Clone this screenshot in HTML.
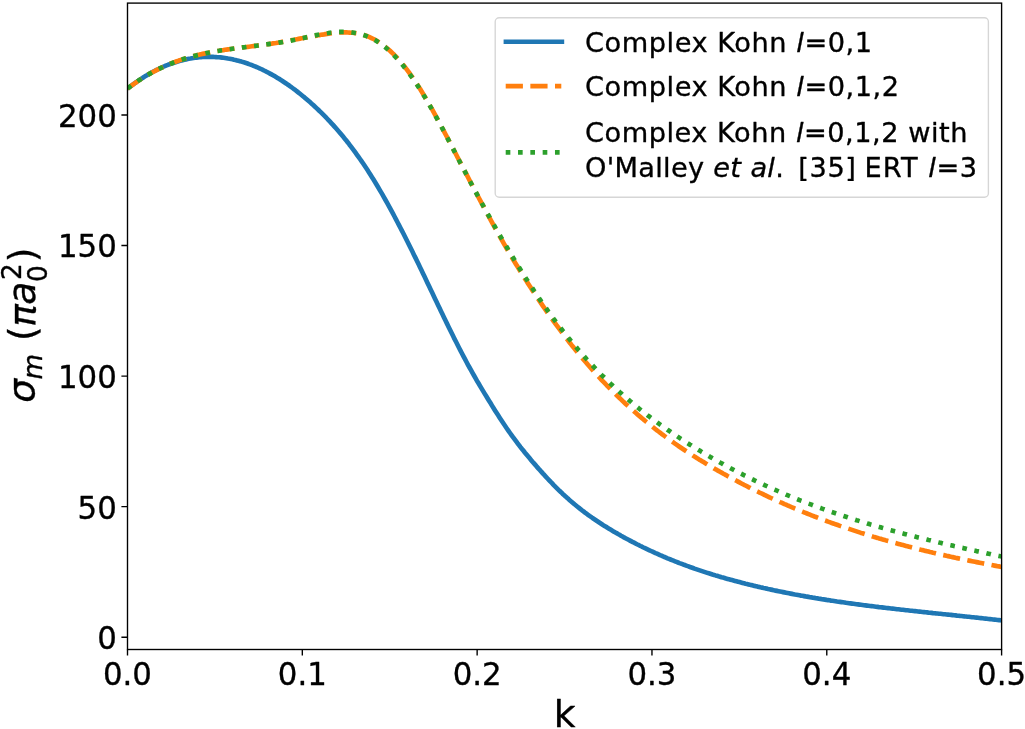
<!DOCTYPE html>
<html><head><meta charset="utf-8"><title>sigma_m vs k</title>
<style>html,body{margin:0;padding:0;background:#fff;width:1025px;height:729px;overflow:hidden}svg{display:block}text{white-space:pre}</style>
</head><body>
<svg width="1025" height="729" viewBox="0 0 1025 729"><rect x="0" y="0" width="1025" height="729" fill="#fff"/>
<defs><clipPath id="ax"><rect x="127.5" y="3.1" width="874.1" height="646.4"/></clipPath></defs>
<g clip-path="url(#ax)" fill="none" stroke-linejoin="round">
<path d="M127.5 88.7 L129.0 87.5 L130.5 86.4 L132.0 85.2 L133.5 84.1 L135.0 83.0 L136.5 82.0 L138.0 80.9 L139.5 79.9 L141.0 78.9 L142.5 78.0 L144.0 77.0 L145.5 76.1 L147.0 75.2 L148.5 74.3 L150.0 73.4 L151.5 72.6 L153.0 71.8 L154.5 71.0 L156.0 70.2 L157.5 69.5 L159.0 68.7 L160.5 68.0 L162.0 67.3 L163.5 66.7 L165.0 66.0 L166.5 65.4 L168.0 64.8 L169.5 64.3 L171.0 63.7 L172.5 63.2 L174.0 62.7 L175.5 62.2 L177.0 61.7 L178.5 61.3 L180.0 60.8 L181.5 60.4 L183.0 60.1 L184.5 59.7 L186.0 59.4 L187.5 59.0 L189.0 58.7 L190.5 58.5 L192.0 58.2 L193.5 58.0 L195.0 57.8 L196.5 57.6 L198.0 57.4 L199.5 57.3 L201.0 57.2 L202.5 57.0 L204.0 57.0 L205.5 56.9 L207.0 56.9 L208.5 56.8 L210.0 56.8 L211.5 56.9 L213.0 56.9 L214.5 57.0 L216.0 57.1 L217.5 57.2 L219.0 57.3 L220.5 57.4 L222.0 57.6 L223.5 57.8 L225.0 58.0 L226.5 58.2 L228.0 58.5 L229.5 58.7 L231.0 59.0 L232.5 59.3 L234.0 59.7 L235.5 60.0 L237.0 60.4 L238.5 60.8 L240.0 61.2 L241.5 61.6 L243.0 62.1 L244.5 62.5 L246.0 63.0 L247.5 63.5 L249.0 64.1 L250.5 64.6 L252.0 65.2 L253.5 65.8 L255.0 66.4 L256.5 67.0 L258.0 67.7 L259.5 68.3 L261.0 69.0 L262.5 69.7 L264.0 70.5 L265.5 71.2 L267.0 72.0 L268.5 72.8 L270.0 73.6 L271.5 74.4 L273.0 75.2 L274.5 76.1 L276.0 77.0 L277.5 77.9 L279.0 78.8 L280.5 79.8 L282.0 80.7 L283.5 81.7 L285.0 82.7 L286.5 83.7 L288.0 84.8 L289.5 85.8 L291.0 86.9 L292.5 88.0 L294.0 89.1 L295.5 90.2 L297.0 91.4 L298.5 92.6 L300.0 93.8 L301.5 95.0 L303.0 96.2 L304.5 97.4 L306.0 98.7 L307.5 100.0 L309.0 101.3 L310.5 102.6 L312.0 104.0 L313.5 105.3 L315.0 106.7 L316.5 108.1 L318.0 109.5 L319.5 111.0 L321.0 112.4 L322.5 113.9 L324.0 115.4 L325.5 116.9 L327.0 118.5 L328.5 120.1 L330.0 121.7 L331.5 123.3 L333.0 124.9 L334.5 126.6 L336.0 128.3 L337.5 130.0 L339.0 131.7 L340.5 133.5 L342.0 135.3 L343.5 137.1 L345.0 139.0 L346.5 140.8 L348.0 142.7 L349.5 144.7 L351.0 146.6 L352.5 148.6 L354.0 150.6 L355.5 152.7 L357.0 154.8 L358.5 156.9 L360.0 159.0 L361.5 161.1 L363.0 163.3 L364.5 165.6 L366.0 167.8 L367.5 170.1 L369.0 172.4 L370.5 174.8 L372.0 177.2 L373.5 179.6 L375.0 182.0 L376.5 184.5 L378.0 187.0 L379.5 189.6 L381.0 192.1 L382.5 194.7 L384.0 197.4 L385.5 200.0 L387.0 202.7 L388.5 205.4 L390.0 208.2 L391.5 210.9 L393.0 213.7 L394.5 216.5 L396.0 219.3 L397.5 222.2 L399.0 225.1 L400.5 228.0 L402.0 230.9 L403.5 233.8 L405.0 236.8 L406.5 239.8 L408.0 242.7 L409.5 245.8 L411.0 248.8 L412.5 251.8 L414.0 254.9 L415.5 257.9 L417.0 261.0 L418.5 264.1 L420.0 267.2 L421.5 270.3 L423.0 273.5 L424.5 276.6 L426.0 279.7 L427.5 282.9 L429.0 286.0 L430.5 289.2 L432.0 292.3 L433.5 295.5 L435.0 298.7 L436.5 301.8 L438.0 304.9 L439.5 308.1 L441.0 311.2 L442.5 314.3 L444.0 317.5 L445.5 320.6 L447.0 323.6 L448.5 326.7 L450.0 329.8 L451.5 332.8 L453.0 335.8 L454.5 338.9 L456.0 341.8 L457.5 344.8 L459.0 347.7 L460.5 350.6 L462.0 353.5 L463.5 356.4 L465.0 359.2 L466.5 362.0 L468.0 364.8 L469.5 367.5 L471.0 370.2 L472.5 372.9 L474.0 375.5 L475.5 378.2 L477.0 380.8 L478.5 383.3 L480.0 385.9 L481.5 388.4 L483.0 390.9 L484.5 393.4 L486.0 395.8 L487.5 398.3 L489.0 400.7 L490.5 403.1 L492.0 405.6 L493.5 408.0 L495.0 410.4 L496.5 412.8 L498.0 415.1 L499.5 417.5 L501.0 419.8 L502.5 422.1 L504.0 424.3 L505.5 426.5 L507.0 428.7 L508.5 430.9 L510.0 433.0 L511.5 435.1 L513.0 437.2 L514.5 439.2 L516.0 441.2 L517.5 443.2 L519.0 445.1 L520.5 447.1 L522.0 449.0 L523.5 450.8 L525.0 452.7 L526.5 454.5 L528.0 456.3 L529.5 458.1 L531.0 459.9 L532.5 461.7 L534.0 463.4 L535.5 465.1 L537.0 466.9 L538.5 468.6 L540.0 470.2 L541.5 471.9 L543.0 473.6 L544.5 475.2 L546.0 476.9 L547.5 478.5 L549.0 480.1 L550.5 481.7 L552.0 483.2 L553.5 484.8 L555.0 486.3 L556.5 487.8 L558.0 489.3 L559.5 490.8 L561.0 492.2 L562.5 493.7 L564.0 495.1 L565.5 496.4 L567.0 497.8 L568.5 499.1 L570.0 500.5 L571.5 501.7 L573.0 503.0 L574.5 504.3 L576.0 505.5 L577.5 506.7 L579.0 507.9 L580.5 509.1 L582.0 510.3 L583.5 511.4 L585.0 512.6 L586.5 513.7 L588.0 514.8 L589.5 515.9 L591.0 516.9 L592.5 518.0 L594.0 519.0 L595.5 520.0 L597.0 521.0 L598.5 522.0 L600.0 523.0 L601.5 524.0 L603.0 525.0 L604.5 525.9 L606.0 526.8 L607.5 527.8 L609.0 528.7 L610.5 529.6 L612.0 530.5 L613.5 531.4 L615.0 532.3 L616.5 533.1 L618.0 534.0 L619.5 534.8 L621.0 535.7 L622.5 536.5 L624.0 537.4 L625.5 538.2 L627.0 539.0 L628.5 539.8 L630.0 540.6 L631.5 541.4 L633.0 542.2 L634.5 542.9 L636.0 543.7 L637.5 544.5 L639.0 545.2 L640.5 546.0 L642.0 546.7 L643.5 547.5 L645.0 548.2 L646.5 548.9 L648.0 549.6 L649.5 550.3 L651.0 551.0 L652.5 551.7 L654.0 552.4 L655.5 553.1 L657.0 553.7 L658.5 554.4 L660.0 555.1 L661.5 555.7 L663.0 556.4 L664.5 557.0 L666.0 557.6 L667.5 558.3 L669.0 558.9 L670.5 559.5 L672.0 560.1 L673.5 560.7 L675.0 561.3 L676.5 561.9 L678.0 562.5 L679.5 563.1 L681.0 563.6 L682.5 564.2 L684.0 564.8 L685.5 565.3 L687.0 565.9 L688.5 566.4 L690.0 567.0 L691.5 567.5 L693.0 568.0 L694.5 568.6 L696.0 569.1 L697.5 569.6 L699.0 570.1 L700.5 570.6 L702.0 571.1 L703.5 571.6 L705.0 572.1 L706.5 572.6 L708.0 573.1 L709.5 573.5 L711.0 574.0 L712.5 574.5 L714.0 574.9 L715.5 575.4 L717.0 575.8 L718.5 576.3 L720.0 576.7 L721.5 577.2 L723.0 577.6 L724.5 578.0 L726.0 578.5 L727.5 578.9 L729.0 579.3 L730.5 579.7 L732.0 580.1 L733.5 580.5 L735.0 580.9 L736.5 581.3 L738.0 581.7 L739.5 582.1 L741.0 582.5 L742.5 582.9 L744.0 583.3 L745.5 583.7 L747.0 584.0 L748.5 584.4 L750.0 584.8 L751.5 585.1 L753.0 585.5 L754.5 585.9 L756.0 586.2 L757.5 586.6 L759.0 586.9 L760.5 587.3 L762.0 587.6 L763.5 588.0 L765.0 588.3 L766.5 588.6 L768.0 589.0 L769.5 589.3 L771.0 589.6 L772.5 589.9 L774.0 590.3 L775.5 590.6 L777.0 590.9 L778.5 591.2 L780.0 591.5 L781.5 591.8 L783.0 592.1 L784.5 592.4 L786.0 592.7 L787.5 593.0 L789.0 593.3 L790.5 593.6 L792.0 593.9 L793.5 594.2 L795.0 594.5 L796.5 594.7 L798.0 595.0 L799.5 595.3 L801.0 595.6 L802.5 595.8 L804.0 596.1 L805.5 596.4 L807.0 596.6 L808.5 596.9 L810.0 597.2 L811.5 597.4 L813.0 597.7 L814.5 597.9 L816.0 598.2 L817.5 598.4 L819.0 598.7 L820.5 598.9 L822.0 599.2 L823.5 599.4 L825.0 599.6 L826.5 599.9 L828.0 600.1 L829.5 600.3 L831.0 600.6 L832.5 600.8 L834.0 601.0 L835.5 601.2 L837.0 601.5 L838.5 601.7 L840.0 601.9 L841.5 602.1 L843.0 602.3 L844.5 602.5 L846.0 602.8 L847.5 603.0 L849.0 603.2 L850.5 603.4 L852.0 603.6 L853.5 603.8 L855.0 604.0 L856.5 604.2 L858.0 604.4 L859.5 604.6 L861.0 604.8 L862.5 605.0 L864.0 605.2 L865.5 605.4 L867.0 605.6 L868.5 605.8 L870.0 606.0 L871.5 606.1 L873.0 606.3 L874.5 606.5 L876.0 606.7 L877.5 606.9 L879.0 607.1 L880.5 607.2 L882.0 607.4 L883.5 607.6 L885.0 607.8 L886.5 608.0 L888.0 608.1 L889.5 608.3 L891.0 608.5 L892.5 608.6 L894.0 608.8 L895.5 609.0 L897.0 609.2 L898.5 609.3 L900.0 609.5 L901.5 609.7 L903.0 609.8 L904.5 610.0 L906.0 610.2 L907.5 610.3 L909.0 610.5 L910.5 610.7 L912.0 610.8 L913.5 611.0 L915.0 611.1 L916.5 611.3 L918.0 611.5 L919.5 611.6 L921.0 611.8 L922.5 612.0 L924.0 612.1 L925.5 612.3 L927.0 612.4 L928.5 612.6 L930.0 612.7 L931.5 612.9 L933.0 613.1 L934.5 613.2 L936.0 613.4 L937.5 613.5 L939.0 613.7 L940.5 613.8 L942.0 614.0 L943.5 614.2 L945.0 614.3 L946.5 614.5 L948.0 614.6 L949.5 614.8 L951.0 614.9 L952.5 615.1 L954.0 615.3 L955.5 615.4 L957.0 615.6 L958.5 615.7 L960.0 615.9 L961.5 616.0 L963.0 616.2 L964.5 616.4 L966.0 616.5 L967.5 616.7 L969.0 616.8 L970.5 617.0 L972.0 617.2 L973.5 617.3 L975.0 617.5 L976.5 617.6 L978.0 617.8 L979.5 618.0 L981.0 618.1 L982.5 618.3 L984.0 618.5 L985.5 618.6 L987.0 618.8 L988.5 619.0 L990.0 619.1 L991.5 619.3 L993.0 619.5 L994.5 619.6 L996.0 619.8 L997.5 620.0 L999.0 620.1 L1000.5 620.3 L1001.6 620.4" stroke="#1f77b4" stroke-width="4.65" stroke-linecap="butt"/>
<path d="M127.5 88.6 L129.0 87.4 L130.5 86.3 L132.0 85.2 L133.5 84.2 L135.0 83.1 L136.5 82.1 L138.0 81.1 L139.5 80.1 L141.0 79.1 L142.5 78.1 L144.0 77.2 L145.5 76.3 L147.0 75.4 L148.5 74.5 L150.0 73.6 L151.5 72.8 L153.0 72.0 L154.5 71.2 L156.0 70.4 L157.5 69.6 L159.0 68.9 L160.5 68.1 L162.0 67.4 L163.5 66.7 L165.0 66.0 L166.5 65.4 L168.0 64.7 L169.5 64.1 L171.0 63.5 L172.5 62.9 L174.0 62.3 L175.5 61.7 L177.0 61.2 L178.5 60.7 L180.0 60.1 L181.5 59.6 L183.0 59.1 L184.5 58.7 L186.0 58.2 L187.5 57.8 L189.0 57.3 L190.5 56.9 L192.0 56.5 L193.5 56.1 L195.0 55.7 L196.5 55.3 L198.0 54.9 L199.5 54.6 L201.0 54.2 L202.5 53.9 L204.0 53.6 L205.5 53.3 L207.0 53.0 L208.5 52.7 L210.0 52.4 L211.5 52.1 L213.0 51.8 L214.5 51.5 L216.0 51.3 L217.5 51.0 L219.0 50.8 L220.5 50.5 L222.0 50.3 L223.5 50.1 L225.0 49.8 L226.5 49.6 L228.0 49.4 L229.5 49.2 L231.0 49.0 L232.5 48.8 L234.0 48.6 L235.5 48.4 L237.0 48.2 L238.5 48.0 L240.0 47.8 L241.5 47.6 L243.0 47.4 L244.5 47.2 L246.0 47.0 L247.5 46.9 L249.0 46.7 L250.5 46.5 L252.0 46.3 L253.5 46.1 L255.0 45.9 L256.5 45.7 L258.0 45.5 L259.5 45.3 L261.0 45.1 L262.5 44.9 L264.0 44.7 L265.5 44.5 L267.0 44.3 L268.5 44.1 L270.0 43.9 L271.5 43.7 L273.0 43.4 L274.5 43.2 L276.0 43.0 L277.5 42.7 L279.0 42.5 L280.5 42.2 L282.0 41.9 L283.5 41.7 L285.0 41.4 L286.5 41.1 L288.0 40.9 L289.5 40.6 L291.0 40.3 L292.5 40.0 L294.0 39.8 L295.5 39.5 L297.0 39.2 L298.5 38.9 L300.0 38.6 L301.5 38.3 L303.0 38.1 L304.5 37.8 L306.0 37.5 L307.5 37.2 L309.0 36.9 L310.5 36.7 L312.0 36.4 L313.5 36.1 L315.0 35.9 L316.5 35.6 L318.0 35.3 L319.5 35.1 L321.0 34.8 L322.5 34.6 L324.0 34.4 L325.5 34.1 L327.0 33.9 L328.5 33.7 L330.0 33.5 L331.5 33.3 L333.0 33.1 L334.5 33.0 L336.0 32.8 L337.5 32.7 L339.0 32.6 L340.5 32.5 L342.0 32.5 L343.5 32.4 L345.0 32.4 L346.5 32.4 L348.0 32.5 L349.5 32.6 L351.0 32.7 L352.5 32.8 L354.0 33.0 L355.5 33.2 L357.0 33.4 L358.5 33.7 L360.0 34.0 L361.5 34.4 L363.0 34.8 L364.5 35.3 L366.0 35.8 L367.5 36.3 L369.0 36.9 L370.5 37.6 L372.0 38.3 L373.5 39.0 L375.0 39.8 L376.5 40.7 L378.0 41.6 L379.5 42.6 L381.0 43.6 L382.5 44.6 L384.0 45.8 L385.5 46.9 L387.0 48.2 L388.5 49.5 L390.0 50.8 L391.5 52.2 L393.0 53.6 L394.5 55.2 L396.0 56.7 L397.5 58.3 L399.0 60.0 L400.5 61.7 L402.0 63.5 L403.5 65.3 L405.0 67.2 L406.5 69.1 L408.0 71.1 L409.5 73.2 L411.0 75.3 L412.5 77.4 L414.0 79.6 L415.5 81.8 L417.0 84.1 L418.5 86.5 L420.0 88.8 L421.5 91.3 L423.0 93.7 L424.5 96.2 L426.0 98.7 L427.5 101.3 L429.0 103.9 L430.5 106.6 L432.0 109.2 L433.5 111.9 L435.0 114.6 L436.5 117.4 L438.0 120.1 L439.5 122.9 L441.0 125.7 L442.5 128.5 L444.0 131.3 L445.5 134.2 L447.0 137.0 L448.5 139.9 L450.0 142.8 L451.5 145.6 L453.0 148.5 L454.5 151.4 L456.0 154.3 L457.5 157.2 L459.0 160.0 L460.5 162.9 L462.0 165.8 L463.5 168.7 L465.0 171.6 L466.5 174.4 L468.0 177.3 L469.5 180.2 L471.0 183.0 L472.5 185.9 L474.0 188.8 L475.5 191.6 L477.0 194.4 L478.5 197.3 L480.0 200.1 L481.5 202.9 L483.0 205.7 L484.5 208.5 L486.0 211.3 L487.5 214.1 L489.0 216.9 L490.5 219.6 L492.0 222.4 L493.5 225.1 L495.0 227.8 L496.5 230.5 L498.0 233.2 L499.5 235.9 L501.0 238.5 L502.5 241.2 L504.0 243.8 L505.5 246.4 L507.0 249.0 L508.5 251.6 L510.0 254.1 L511.5 256.7 L513.0 259.2 L514.5 261.7 L516.0 264.2 L517.5 266.6 L519.0 269.1 L520.5 271.5 L522.0 274.0 L523.5 276.4 L525.0 278.8 L526.5 281.1 L528.0 283.5 L529.5 285.8 L531.0 288.1 L532.5 290.5 L534.0 292.7 L535.5 295.0 L537.0 297.3 L538.5 299.5 L540.0 301.7 L541.5 303.9 L543.0 306.1 L544.5 308.3 L546.0 310.5 L547.5 312.6 L549.0 314.8 L550.5 316.9 L552.0 319.0 L553.5 321.1 L555.0 323.1 L556.5 325.2 L558.0 327.2 L559.5 329.2 L561.0 331.2 L562.5 333.2 L564.0 335.2 L565.5 337.2 L567.0 339.1 L568.5 341.0 L570.0 343.0 L571.5 344.9 L573.0 346.7 L574.5 348.6 L576.0 350.5 L577.5 352.3 L579.0 354.1 L580.5 355.9 L582.0 357.7 L583.5 359.5 L585.0 361.3 L586.5 363.0 L588.0 364.8 L589.5 366.5 L591.0 368.2 L592.5 369.9 L594.0 371.6 L595.5 373.2 L597.0 374.9 L598.5 376.5 L600.0 378.2 L601.5 379.8 L603.0 381.4 L604.5 382.9 L606.0 384.5 L607.5 386.1 L609.0 387.6 L610.5 389.1 L612.0 390.6 L613.5 392.1 L615.0 393.6 L616.5 395.1 L618.0 396.6 L619.5 398.0 L621.0 399.4 L622.5 400.9 L624.0 402.3 L625.5 403.7 L627.0 405.1 L628.5 406.4 L630.0 407.8 L631.5 409.1 L633.0 410.5 L634.5 411.8 L636.0 413.1 L637.5 414.4 L639.0 415.7 L640.5 417.0 L642.0 418.3 L643.5 419.5 L645.0 420.8 L646.5 422.0 L648.0 423.2 L649.5 424.4 L651.0 425.6 L652.5 426.8 L654.0 428.0 L655.5 429.2 L657.0 430.4 L658.5 431.5 L660.0 432.6 L661.5 433.8 L663.0 434.9 L664.5 436.0 L666.0 437.1 L667.5 438.2 L669.0 439.3 L670.5 440.4 L672.0 441.5 L673.5 442.5 L675.0 443.6 L676.5 444.6 L678.0 445.7 L679.5 446.7 L681.0 447.7 L682.5 448.7 L684.0 449.7 L685.5 450.7 L687.0 451.7 L688.5 452.7 L690.0 453.7 L691.5 454.6 L693.0 455.6 L694.5 456.6 L696.0 457.5 L697.5 458.4 L699.0 459.4 L700.5 460.3 L702.0 461.2 L703.5 462.1 L705.0 463.0 L706.5 463.9 L708.0 464.8 L709.5 465.7 L711.0 466.6 L712.5 467.5 L714.0 468.4 L715.5 469.2 L717.0 470.1 L718.5 470.9 L720.0 471.8 L721.5 472.6 L723.0 473.5 L724.5 474.3 L726.0 475.1 L727.5 476.0 L729.0 476.8 L730.5 477.6 L732.0 478.4 L733.5 479.2 L735.0 480.0 L736.5 480.8 L738.0 481.6 L739.5 482.4 L741.0 483.2 L742.5 484.0 L744.0 484.8 L745.5 485.5 L747.0 486.3 L748.5 487.1 L750.0 487.8 L751.5 488.6 L753.0 489.3 L754.5 490.1 L756.0 490.8 L757.5 491.5 L759.0 492.3 L760.5 493.0 L762.0 493.7 L763.5 494.4 L765.0 495.2 L766.5 495.9 L768.0 496.6 L769.5 497.3 L771.0 498.0 L772.5 498.7 L774.0 499.4 L775.5 500.0 L777.0 500.7 L778.5 501.4 L780.0 502.1 L781.5 502.7 L783.0 503.4 L784.5 504.1 L786.0 504.7 L787.5 505.4 L789.0 506.0 L790.5 506.7 L792.0 507.3 L793.5 507.9 L795.0 508.6 L796.5 509.2 L798.0 509.8 L799.5 510.5 L801.0 511.1 L802.5 511.7 L804.0 512.3 L805.5 512.9 L807.0 513.5 L808.5 514.1 L810.0 514.7 L811.5 515.3 L813.0 515.9 L814.5 516.5 L816.0 517.0 L817.5 517.6 L819.0 518.2 L820.5 518.8 L822.0 519.3 L823.5 519.9 L825.0 520.5 L826.5 521.0 L828.0 521.6 L829.5 522.1 L831.0 522.7 L832.5 523.2 L834.0 523.7 L835.5 524.3 L837.0 524.8 L838.5 525.3 L840.0 525.9 L841.5 526.4 L843.0 526.9 L844.5 527.4 L846.0 527.9 L847.5 528.4 L849.0 528.9 L850.5 529.4 L852.0 529.9 L853.5 530.4 L855.0 530.9 L856.5 531.4 L858.0 531.9 L859.5 532.4 L861.0 532.9 L862.5 533.3 L864.0 533.8 L865.5 534.3 L867.0 534.8 L868.5 535.2 L870.0 535.7 L871.5 536.1 L873.0 536.6 L874.5 537.1 L876.0 537.5 L877.5 537.9 L879.0 538.4 L880.5 538.8 L882.0 539.3 L883.5 539.7 L885.0 540.1 L886.5 540.6 L888.0 541.0 L889.5 541.4 L891.0 541.9 L892.5 542.3 L894.0 542.7 L895.5 543.1 L897.0 543.5 L898.5 543.9 L900.0 544.3 L901.5 544.7 L903.0 545.1 L904.5 545.5 L906.0 545.9 L907.5 546.3 L909.0 546.7 L910.5 547.1 L912.0 547.5 L913.5 547.9 L915.0 548.3 L916.5 548.6 L918.0 549.0 L919.5 549.4 L921.0 549.8 L922.5 550.1 L924.0 550.5 L925.5 550.9 L927.0 551.2 L928.5 551.6 L930.0 552.0 L931.5 552.3 L933.0 552.7 L934.5 553.0 L936.0 553.4 L937.5 553.7 L939.0 554.1 L940.5 554.4 L942.0 554.8 L943.5 555.1 L945.0 555.4 L946.5 555.8 L948.0 556.1 L949.5 556.4 L951.0 556.8 L952.5 557.1 L954.0 557.4 L955.5 557.8 L957.0 558.1 L958.5 558.4 L960.0 558.7 L961.5 559.0 L963.0 559.4 L964.5 559.7 L966.0 560.0 L967.5 560.3 L969.0 560.6 L970.5 560.9 L972.0 561.2 L973.5 561.5 L975.0 561.8 L976.5 562.1 L978.0 562.4 L979.5 562.7 L981.0 563.0 L982.5 563.3 L984.0 563.6 L985.5 563.9 L987.0 564.2 L988.5 564.5 L990.0 564.8 L991.5 565.0 L993.0 565.3 L994.5 565.6 L996.0 565.9 L997.5 566.2 L999.0 566.4 L1000.5 566.7 L1001.6 566.9" stroke="#ff7f0e" stroke-width="4.65" stroke-dasharray="17.21 7.44" stroke-linecap="butt"/>
<path d="M127.5 88.5 L129.0 87.4 L130.5 86.2 L132.0 85.1 L133.5 84.0 L135.0 83.0 L136.5 82.0 L138.0 80.9 L139.5 79.9 L141.0 79.0 L142.5 78.0 L144.0 77.1 L145.5 76.2 L147.0 75.3 L148.5 74.4 L150.0 73.6 L151.5 72.8 L153.0 71.9 L154.5 71.1 L156.0 70.4 L157.5 69.6 L159.0 68.9 L160.5 68.2 L162.0 67.5 L163.5 66.8 L165.0 66.1 L166.5 65.5 L168.0 64.8 L169.5 64.2 L171.0 63.6 L172.5 63.0 L174.0 62.4 L175.5 61.9 L177.0 61.3 L178.5 60.8 L180.0 60.3 L181.5 59.8 L183.0 59.3 L184.5 58.8 L186.0 58.3 L187.5 57.9 L189.0 57.5 L190.5 57.0 L192.0 56.6 L193.5 56.2 L195.0 55.8 L196.5 55.4 L198.0 55.1 L199.5 54.7 L201.0 54.3 L202.5 54.0 L204.0 53.7 L205.5 53.3 L207.0 53.0 L208.5 52.7 L210.0 52.4 L211.5 52.1 L213.0 51.9 L214.5 51.6 L216.0 51.3 L217.5 51.0 L219.0 50.8 L220.5 50.5 L222.0 50.3 L223.5 50.1 L225.0 49.8 L226.5 49.6 L228.0 49.4 L229.5 49.2 L231.0 49.0 L232.5 48.7 L234.0 48.5 L235.5 48.3 L237.0 48.1 L238.5 47.9 L240.0 47.7 L241.5 47.6 L243.0 47.4 L244.5 47.2 L246.0 47.0 L247.5 46.8 L249.0 46.6 L250.5 46.4 L252.0 46.2 L253.5 46.1 L255.0 45.9 L256.5 45.7 L258.0 45.5 L259.5 45.3 L261.0 45.1 L262.5 44.9 L264.0 44.7 L265.5 44.5 L267.0 44.3 L268.5 44.1 L270.0 43.9 L271.5 43.7 L273.0 43.5 L274.5 43.3 L276.0 43.1 L277.5 42.9 L279.0 42.6 L280.5 42.4 L282.0 42.2 L283.5 41.9 L285.0 41.7 L286.5 41.4 L288.0 41.1 L289.5 40.9 L291.0 40.6 L292.5 40.3 L294.0 40.0 L295.5 39.7 L297.0 39.4 L298.5 39.1 L300.0 38.7 L301.5 38.4 L303.0 38.1 L304.5 37.7 L306.0 37.4 L307.5 37.1 L309.0 36.7 L310.5 36.4 L312.0 36.1 L313.5 35.7 L315.0 35.4 L316.5 35.1 L318.0 34.8 L319.5 34.5 L321.0 34.2 L322.5 33.9 L324.0 33.7 L325.5 33.4 L327.0 33.2 L328.5 33.0 L330.0 32.7 L331.5 32.6 L333.0 32.4 L334.5 32.2 L336.0 32.1 L337.5 32.0 L339.0 31.9 L340.5 31.9 L342.0 31.9 L343.5 31.9 L345.0 31.9 L346.5 31.9 L348.0 32.0 L349.5 32.1 L351.0 32.3 L352.5 32.5 L354.0 32.7 L355.5 33.0 L357.0 33.2 L358.5 33.6 L360.0 34.0 L361.5 34.4 L363.0 34.8 L364.5 35.3 L366.0 35.9 L367.5 36.5 L369.0 37.1 L370.5 37.8 L372.0 38.5 L373.5 39.3 L375.0 40.1 L376.5 41.0 L378.0 41.9 L379.5 42.9 L381.0 44.0 L382.5 45.1 L384.0 46.3 L385.5 47.5 L387.0 48.7 L388.5 50.1 L390.0 51.4 L391.5 52.9 L393.0 54.3 L394.5 55.9 L396.0 57.5 L397.5 59.1 L399.0 60.8 L400.5 62.5 L402.0 64.3 L403.5 66.1 L405.0 68.0 L406.5 69.9 L408.0 71.9 L409.5 73.9 L411.0 76.0 L412.5 78.1 L414.0 80.3 L415.5 82.5 L417.0 84.7 L418.5 87.0 L420.0 89.4 L421.5 91.7 L423.0 94.2 L424.5 96.6 L426.0 99.1 L427.5 101.7 L429.0 104.2 L430.5 106.8 L432.0 109.5 L433.5 112.2 L435.0 114.9 L436.5 117.6 L438.0 120.3 L439.5 123.1 L441.0 125.9 L442.5 128.7 L444.0 131.5 L445.5 134.4 L447.0 137.2 L448.5 140.1 L450.0 143.0 L451.5 145.9 L453.0 148.7 L454.5 151.6 L456.0 154.5 L457.5 157.4 L459.0 160.3 L460.5 163.2 L462.0 166.1 L463.5 168.9 L465.0 171.8 L466.5 174.7 L468.0 177.5 L469.5 180.3 L471.0 183.2 L472.5 186.0 L474.0 188.8 L475.5 191.6 L477.0 194.4 L478.5 197.1 L480.0 199.9 L481.5 202.6 L483.0 205.4 L484.5 208.1 L486.0 210.8 L487.5 213.5 L489.0 216.2 L490.5 218.9 L492.0 221.6 L493.5 224.2 L495.0 226.9 L496.5 229.5 L498.0 232.1 L499.5 234.7 L501.0 237.3 L502.5 239.9 L504.0 242.5 L505.5 245.0 L507.0 247.5 L508.5 250.1 L510.0 252.6 L511.5 255.1 L513.0 257.5 L514.5 260.0 L516.0 262.5 L517.5 264.9 L519.0 267.3 L520.5 269.7 L522.0 272.1 L523.5 274.5 L525.0 276.9 L526.5 279.2 L528.0 281.5 L529.5 283.9 L531.0 286.2 L532.5 288.4 L534.0 290.7 L535.5 292.9 L537.0 295.2 L538.5 297.4 L540.0 299.6 L541.5 301.8 L543.0 303.9 L544.5 306.1 L546.0 308.2 L547.5 310.3 L549.0 312.4 L550.5 314.5 L552.0 316.5 L553.5 318.6 L555.0 320.6 L556.5 322.6 L558.0 324.6 L559.5 326.6 L561.0 328.5 L562.5 330.4 L564.0 332.3 L565.5 334.2 L567.0 336.1 L568.5 338.0 L570.0 339.8 L571.5 341.6 L573.0 343.4 L574.5 345.2 L576.0 347.0 L577.5 348.8 L579.0 350.5 L580.5 352.2 L582.0 353.9 L583.5 355.6 L585.0 357.3 L586.5 359.0 L588.0 360.6 L589.5 362.2 L591.0 363.9 L592.5 365.5 L594.0 367.0 L595.5 368.6 L597.0 370.2 L598.5 371.7 L600.0 373.2 L601.5 374.8 L603.0 376.3 L604.5 377.7 L606.0 379.2 L607.5 380.7 L609.0 382.1 L610.5 383.6 L612.0 385.0 L613.5 386.4 L615.0 387.8 L616.5 389.2 L618.0 390.5 L619.5 391.9 L621.0 393.2 L622.5 394.6 L624.0 395.9 L625.5 397.2 L627.0 398.5 L628.5 399.8 L630.0 401.1 L631.5 402.3 L633.0 403.6 L634.5 404.8 L636.0 406.1 L637.5 407.3 L639.0 408.5 L640.5 409.7 L642.0 410.9 L643.5 412.1 L645.0 413.2 L646.5 414.4 L648.0 415.6 L649.5 416.7 L651.0 417.8 L652.5 419.0 L654.0 420.1 L655.5 421.2 L657.0 422.3 L658.5 423.4 L660.0 424.5 L661.5 425.5 L663.0 426.6 L664.5 427.7 L666.0 428.7 L667.5 429.8 L669.0 430.8 L670.5 431.8 L672.0 432.9 L673.5 433.9 L675.0 434.9 L676.5 435.9 L678.0 436.9 L679.5 437.9 L681.0 438.9 L682.5 439.8 L684.0 440.8 L685.5 441.8 L687.0 442.8 L688.5 443.7 L690.0 444.7 L691.5 445.6 L693.0 446.5 L694.5 447.5 L696.0 448.4 L697.5 449.3 L699.0 450.2 L700.5 451.1 L702.0 452.1 L703.5 452.9 L705.0 453.8 L706.5 454.7 L708.0 455.6 L709.5 456.5 L711.0 457.4 L712.5 458.2 L714.0 459.1 L715.5 459.9 L717.0 460.8 L718.5 461.6 L720.0 462.5 L721.5 463.3 L723.0 464.1 L724.5 465.0 L726.0 465.8 L727.5 466.6 L729.0 467.4 L730.5 468.2 L732.0 469.0 L733.5 469.8 L735.0 470.6 L736.5 471.4 L738.0 472.1 L739.5 472.9 L741.0 473.7 L742.5 474.4 L744.0 475.2 L745.5 475.9 L747.0 476.7 L748.5 477.4 L750.0 478.2 L751.5 478.9 L753.0 479.6 L754.5 480.4 L756.0 481.1 L757.5 481.8 L759.0 482.5 L760.5 483.2 L762.0 483.9 L763.5 484.6 L765.0 485.3 L766.5 486.0 L768.0 486.7 L769.5 487.4 L771.0 488.0 L772.5 488.7 L774.0 489.4 L775.5 490.0 L777.0 490.7 L778.5 491.3 L780.0 492.0 L781.5 492.6 L783.0 493.3 L784.5 493.9 L786.0 494.6 L787.5 495.2 L789.0 495.8 L790.5 496.4 L792.0 497.0 L793.5 497.7 L795.0 498.3 L796.5 498.9 L798.0 499.5 L799.5 500.1 L801.0 500.7 L802.5 501.2 L804.0 501.8 L805.5 502.4 L807.0 503.0 L808.5 503.6 L810.0 504.1 L811.5 504.7 L813.0 505.3 L814.5 505.8 L816.0 506.4 L817.5 506.9 L819.0 507.5 L820.5 508.0 L822.0 508.6 L823.5 509.1 L825.0 509.7 L826.5 510.2 L828.0 510.7 L829.5 511.2 L831.0 511.8 L832.5 512.3 L834.0 512.8 L835.5 513.3 L837.0 513.8 L838.5 514.3 L840.0 514.8 L841.5 515.3 L843.0 515.8 L844.5 516.3 L846.0 516.8 L847.5 517.3 L849.0 517.8 L850.5 518.3 L852.0 518.7 L853.5 519.2 L855.0 519.7 L856.5 520.2 L858.0 520.6 L859.5 521.1 L861.0 521.6 L862.5 522.0 L864.0 522.5 L865.5 522.9 L867.0 523.4 L868.5 523.8 L870.0 524.3 L871.5 524.7 L873.0 525.2 L874.5 525.6 L876.0 526.0 L877.5 526.5 L879.0 526.9 L880.5 527.3 L882.0 527.8 L883.5 528.2 L885.0 528.6 L886.5 529.0 L888.0 529.4 L889.5 529.9 L891.0 530.3 L892.5 530.7 L894.0 531.1 L895.5 531.5 L897.0 531.9 L898.5 532.3 L900.0 532.7 L901.5 533.1 L903.0 533.5 L904.5 533.9 L906.0 534.3 L907.5 534.7 L909.0 535.1 L910.5 535.5 L912.0 535.8 L913.5 536.2 L915.0 536.6 L916.5 537.0 L918.0 537.4 L919.5 537.7 L921.0 538.1 L922.5 538.5 L924.0 538.9 L925.5 539.2 L927.0 539.6 L928.5 540.0 L930.0 540.3 L931.5 540.7 L933.0 541.1 L934.5 541.4 L936.0 541.8 L937.5 542.1 L939.0 542.5 L940.5 542.8 L942.0 543.2 L943.5 543.6 L945.0 543.9 L946.5 544.3 L948.0 544.6 L949.5 545.0 L951.0 545.3 L952.5 545.6 L954.0 546.0 L955.5 546.3 L957.0 546.7 L958.5 547.0 L960.0 547.4 L961.5 547.7 L963.0 548.0 L964.5 548.4 L966.0 548.7 L967.5 549.1 L969.0 549.4 L970.5 549.7 L972.0 550.1 L973.5 550.4 L975.0 550.7 L976.5 551.1 L978.0 551.4 L979.5 551.7 L981.0 552.1 L982.5 552.4 L984.0 552.7 L985.5 553.0 L987.0 553.4 L988.5 553.7 L990.0 554.0 L991.5 554.4 L993.0 554.7 L994.5 555.0 L996.0 555.3 L997.5 555.7 L999.0 556.0 L1000.5 556.3 L1001.6 556.5" stroke="#2ca02c" stroke-width="4.65" stroke-dasharray="4.65 7.67" stroke-linecap="butt"/>
</g>
<rect x="127.50" y="3.10" width="874.10" height="646.40" fill="none" stroke="#000" stroke-width="1.37" stroke-linejoin="miter"/>
<path d="M127.50 649.50 V655.60 M302.32 649.50 V655.60 M477.14 649.50 V655.60 M651.96 649.50 V655.60 M826.78 649.50 V655.60 M1001.60 649.50 V655.60 M127.50 637.20 H121.40 M127.50 506.65 H121.40 M127.50 376.10 H121.40 M127.50 245.55 H121.40 M127.50 115.00 H121.40" stroke="#000" stroke-width="1.37" fill="none"/>
<g font-family="DejaVu Sans, Liberation Sans, sans-serif" font-size="30.8" fill="#000" stroke="#000" stroke-width="0.35" stroke-linejoin="round">
<text x="127.50" y="684.20" text-anchor="middle" transform="matrix(1 0 0 1.060 0 -40.380)">0.0</text>
<text x="302.32" y="684.20" text-anchor="middle" transform="matrix(1 0 0 1.060 0 -40.380)">0.1</text>
<text x="477.14" y="684.20" text-anchor="middle" transform="matrix(1 0 0 1.060 0 -40.380)">0.2</text>
<text x="651.96" y="684.20" text-anchor="middle" transform="matrix(1 0 0 1.060 0 -40.380)">0.3</text>
<text x="826.78" y="684.20" text-anchor="middle" transform="matrix(1 0 0 1.060 0 -40.380)">0.4</text>
<text x="1001.60" y="684.20" text-anchor="middle" transform="matrix(1 0 0 1.060 0 -40.380)">0.5</text>
<text x="116.80" y="648.40" text-anchor="end" transform="matrix(1 0 0 1.060 0 -38.232)">0</text>
<text x="116.80" y="517.85" text-anchor="end" transform="matrix(1 0 0 1.060 0 -30.399)">50</text>
<text x="116.80" y="387.30" text-anchor="end" transform="matrix(1 0 0 1.060 0 -22.566)">100</text>
<text x="116.80" y="256.75" text-anchor="end" transform="matrix(1 0 0 1.060 0 -14.733)">150</text>
<text x="116.80" y="126.20" text-anchor="end" transform="matrix(1 0 0 1.060 0 -6.900)">200</text>
</g>
<text x="564.55" y="727.3" font-family="DejaVu Sans, sans-serif" font-size="37.6" text-anchor="middle" stroke="#000" stroke-width="0.35" stroke-linejoin="round">k</text>
<g transform="rotate(-90)" font-family="DejaVu Sans, sans-serif" fill="#000" stroke="#000" stroke-width="0.35" stroke-linejoin="round">
<text x="-402.69" y="34.32" font-size="37.6" font-style="oblique">σ</text>
<text x="-379.57" y="42.06" font-size="26.3" font-style="oblique">m</text>
<text x="-340.89" y="34.64" font-size="37.6">(</text>
<text x="-326.69" y="34.62" font-size="37.6" font-style="oblique">π</text>
<text x="-304.80" y="34.61" font-size="37.6" font-style="oblique">a</text>
<text x="-281.96" y="46.77" font-size="26.3">0</text>
<text x="-279.96" y="20.91" font-size="26.3">2</text>
<text x="-262.17" y="34.59" font-size="37.6">)</text>
</g>
<rect x="495.20" y="17.70" width="493.20" height="179.50" rx="4" ry="4" fill="#fff" fill-opacity="0.8" stroke="#d6d6d6" stroke-width="1.37"/>
<path d="M503.6 41.7 H564.2" stroke="#1f77b4" stroke-width="4.65"/>
<path d="M505.7 86.1 H561.3" stroke="#ff7f0e" stroke-width="4.65" stroke-dasharray="17.21 7.44"/>
<path d="M505.7 152.3 H561.3" stroke="#2ca02c" stroke-width="4.65" stroke-dasharray="4.65 7.67"/>
<g font-family="DejaVu Sans, sans-serif" font-size="27.2" fill="#000" stroke="#000" stroke-width="0.35" stroke-linejoin="round">
<text x="585.0" y="51.6" letter-spacing="0.55">Complex Kohn <tspan font-style="oblique">l</tspan>=0,1</text>
<text x="585.0" y="96.1" letter-spacing="0.55">Complex Kohn <tspan font-style="oblique">l</tspan>=0,1,2</text>
<text x="585.0" y="141.5" letter-spacing="0.52">Complex Kohn <tspan font-style="oblique">l</tspan>=0,1,2 with</text>
<text y="176.9"><tspan x="585" letter-spacing="0.3">O'Malley</tspan><tspan x="713.35" font-style="oblique" letter-spacing="0.3">et</tspan><tspan x="750.4" font-style="oblique" letter-spacing="0.3">al</tspan><tspan letter-spacing="0.3">.</tspan><tspan x="798.3" letter-spacing="0.6">[35]</tspan><tspan x="864.4" letter-spacing="1.2">ERT</tspan><tspan x="928.2" font-style="oblique">l</tspan><tspan x="936.6" letter-spacing="0.5">=3</tspan></text>
</g></svg>
</body></html>
